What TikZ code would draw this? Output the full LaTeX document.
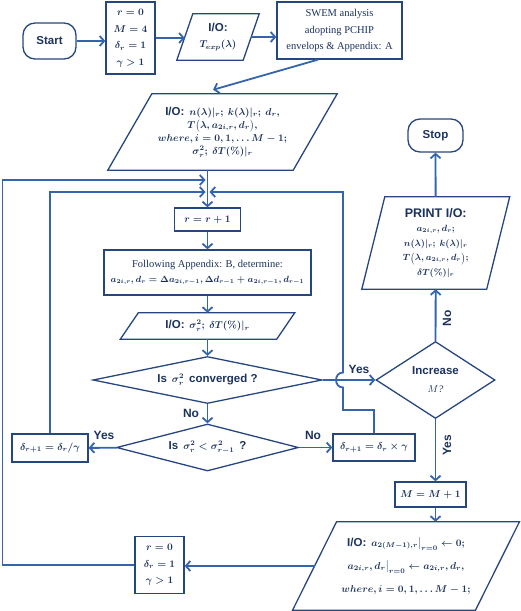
\documentclass[tikz,border=0pt]{standalone}
\usepackage[no-math]{fontspec}
\setmainfont{Liberation Serif}
\setsansfont{Liberation Sans}
\usetikzlibrary{shapes.geometric,arrows.meta,calc}
\definecolor{lnc}{RGB}{52,100,172}
\definecolor{bdc}{RGB}{38,70,126}
\definecolor{txc}{RGB}{28,50,94}
\newcommand\sbf[1]{{\sffamily\bfseries\fontsize{11.5}{13}\selectfont #1}}
\newcommand\bm[1]{{\boldmath$#1$}}
\newcommand\drawio[2]{\draw[bd] ([xshift=#2]#1.north west) -- ([xshift=#2]#1.north east) -- ([xshift=-#2]#1.south east) -- ([xshift=-#2]#1.south west) -- cycle;}
\begin{document}
\begin{tikzpicture}[x=1pt,y=-1pt,
  bd/.style={draw=bdc,line width=1.3pt,line join=miter},
  box/.style={bd,rectangle,text=txc,align=center,inner sep=0pt,font=\fontsize{10}{13}\selectfont\boldmath},
  term/.style={box,rounded corners=12pt},
  iot/.style={rectangle,text=txc,align=center,inner sep=0pt,font=\fontsize{9.8}{13}\selectfont\boldmath},
  dec/.style={bd,diamond,text=txc,align=center,inner sep=0pt,font=\fontsize{10}{13}\selectfont\boldmath},
  arr/.style={draw=lnc,line width=1.8pt,-{Straight Barb[length=4.5pt,width=10pt]}},
  lbl/.style={text=txc,font=\sffamily\bfseries\fontsize{12}{14}\selectfont,inner sep=0pt}
]
\useasboundingbox (0,0) rectangle (520,611);
% top row
\node[term,minimum width=53pt,minimum height=36pt] (start) at (49.5,41) {\sbf{Start}};
\node[box,minimum width=49pt,minimum height=72pt,font=\fontsize{10}{16.5}\selectfont\boldmath] (b1) at (130.5,38) {$r = 0$\\$M = 4$\\$\delta_r = 1$\\$\gamma > 1$};
\node[iot,minimum width=66pt,minimum height=46pt,font=\fontsize{10}{16}\selectfont\boldmath] (io1) at (218,37) {\sbf{I/O:}\\$T_{exp}(\lambda)$};
\drawio{io1}{8pt}
\node[box,minimum width=125pt,minimum height=57pt,font=\fontsize{10.5}{16.5}\selectfont] (swem) at (339.5,30.5) {SWEM analysis\\adopting PCHIP\\envelops \& Appendix: A};
% central column
\node[iot,minimum width=185pt,minimum height=76pt] (io2) at (222.5,132) {\sbf{I/O:}\ \ $n(\lambda)|_r;\ k(\lambda)|_r;\ d_r,$\\$T\big(\lambda,a_{2i,r},d_r\big),$\\$where, i = 0, 1, \ldots M - 1;$\\$\sigma_r^2;\ \delta T(\%)|_r$};
\drawio{io2}{22pt}
\node[box,minimum width=66pt,minimum height=23pt] (rr) at (207.5,219.5) {$r = r + 1$};
\node[box,minimum width=207pt,minimum height=45pt,font=\fontsize{10.5}{15}\selectfont] (fol) at (207.5,272.5) {Following Appendix: B, determine:\\ {\fontsize{9}{12}\selectfont\bm{a_{2i,r}, d_r = \Delta a_{2i,r-1}, \Delta d_{r-1} + a_{2i,r-1}, d_{r-1}}}};
\node[iot,minimum width=156pt,minimum height=26pt] (io3) at (207.5,326) {\sbf{I/O:}\ \ $\sigma_r^2;\ \delta T(\%)|_r$};
\drawio{io3}{9pt}
\node[dec,minimum width=229pt,minimum height=47pt,shape aspect=4.9] (conv) at (207.5,380) {\sbf{Is}\ \ $\sigma_r^2$\ \ \sbf{converged ?}};
\node[dec,minimum width=182pt,minimum height=47pt,shape aspect=3.9] (less) at (207.5,447.5) {\sbf{Is}\ \ $\sigma_r^2 < \sigma_{r-1}^2$\ \ \sbf{?}};
\node[box,minimum width=76pt,minimum height=28pt] (div) at (50,448) {$\delta_{r+1} = \delta_r/\gamma$};
\node[box,minimum width=82pt,minimum height=27pt] (mul) at (374,447.5) {$\delta_{r+1} = \delta_r \times \gamma$};
% right column
\node[term,minimum width=55pt,minimum height=33pt] (stop) at (435.5,135.5) {\sbf{Stop}};
\node[iot,minimum width=124.5pt,minimum height=92pt,font=\fontsize{9.2}{14.5}\selectfont\boldmath] (io4) at (435.75,243) {{\sffamily\bfseries\fontsize{12.5}{14}\selectfont PRINT I/O:}\\$a_{2i,r}, d_r;$\\$n(\lambda)|_r;\ k(\lambda)|_r$\\$T\big(\lambda, a_{2i,r}, d_r\big);$\\$\delta T(\%)|_r$};
\drawio{io4}{11.5pt}
\node[dec,minimum width=119pt,minimum height=77pt,shape aspect=1.55,font=\fontsize{10}{18}\selectfont] (inc) at (435.5,380) {\sbf{Increase}\\$M$\textit{?}};
\node[box,minimum width=71pt,minimum height=25pt] (mm) at (430.5,494.5) {$M = M + 1$};
\node[iot,minimum width=182.5pt,minimum height=88pt,font=\fontsize{9.8}{23}\selectfont\boldmath] (io5) at (406,566) {\sbf{I/O:}\ \ $a_{2(M-1),r}\big|_{r=0} \leftarrow 0;$\\$a_{2i,r}, d_r\big|_{r=0} \leftarrow a_{2i,r}, d_r,$\\$where, i = 0, 1, \ldots M - 1;$};
\drawio{io5}{22pt}
\node[box,minimum width=49pt,minimum height=57pt,font=\fontsize{10}{16.5}\selectfont\boldmath] (r0) at (159.5,565) {$r = 0$\\$\delta_r = 1$\\$\gamma > 1$};
% helper coordinates
\coordinate (fl) at (2.5,0);
\coordinate (j1) at (205.5,180);
\coordinate (j2) at (205.5,192);
\coordinate (j3) at (209.5,192);
\coordinate (rc) at (343,410);
% connectors
\draw[arr] (start.east) -- (start.east -| b1.west);
\draw[arr] (b1.east) -- (b1.east -| io1.west);
\draw[arr] (io1.east) -- (io1.east -| swem.west);
\draw[arr] ([xshift=-21.5pt]swem.south) -- ([xshift=-9.5pt,yshift=4pt]io2.north);
\draw[arr] (io2.south -| rr.north) -- (rr.north);
\draw[arr] (rr) -- (fol);
\draw[arr] (fol) -- (io3);
\draw[arr] (io3) -- (conv);
\draw[arr] (conv) -- (less);
\draw[arr] (less) -- (div);
\draw[arr] (less) -- (mul);
\draw[arr] (conv.east) -- (conv.east -| inc.west);
\draw[arr] (inc) -- (io4);
\draw[arr] (io4) -- (stop);
\draw[arr] (inc.south) -- (inc.south |- mm.north);
\draw[arr] (inc.south |- mm.south) -- (inc.south |- io5.north);
\draw[arr] (io5.west) -- (io5.west -| r0.east);
\draw[arr] (r0.west) -- (r0.west -| fl) |- (j1);
\draw[arr] (div.north) |- (j2);
\draw[arr] (mul.north) |- (rc) -- (343,387.5) .. controls (333.7,387.5) and (333.7,372.5) .. (343,372.5) -- (343,192) -- (j3);
% labels
\node[lbl] (lno1) at (191,413) {No};
\node[lbl] (lyes1) at (104,435) {Yes};
\node[lbl] (lno2) at (313,435) {No};
\node[lbl] (lyes2) at (359,369) {Yes};
\node[lbl,rotate=90] (lno3) at (447,318) {No};
\node[lbl,rotate=90] (lyes3) at (447,445) {Yes};
\end{tikzpicture}
\end{document}
